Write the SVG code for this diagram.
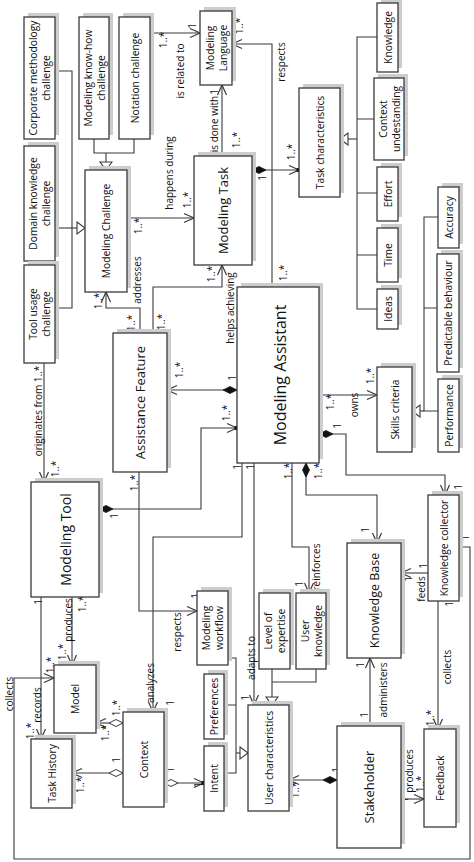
<svg xmlns="http://www.w3.org/2000/svg" width="474" height="862" viewBox="0 0 474 862">
<style>
.sh{fill:#cdcdcd;stroke:none}
.bx{fill:#fff;stroke:#3a3a3a;stroke-width:1.3}
.t{font-family:"Open Sans","Noto Sans",sans-serif;font-size:10.3px;fill:#111;text-anchor:middle;dominant-baseline:central}
.big{font-size:16px}
.mid{font-size:13px}
.lb{font-family:"Open Sans","Noto Sans",sans-serif;font-size:10px;fill:#111;text-anchor:middle;dominant-baseline:central}
.c{fill:none;stroke:#3a3a3a;stroke-width:1.1}
.a{marker-end:url(#arr)}
.ad{marker-end:url(#arrdot)}
.g{marker-end:url(#tri)}
.d{marker-start:url(#dia)}
.od{marker-start:url(#odia)}
</style>
<defs>
<marker id="arr" viewBox="0 0 10 10" refX="10" refY="5" markerWidth="10" markerHeight="10" markerUnits="userSpaceOnUse" orient="auto" overflow="visible"><path d="M0,0.5 L10,5 L0,9.5" fill="none" stroke="#3a3a3a" stroke-width="1.2"/></marker>
<marker id="arrdot" viewBox="0 0 10 10" refX="10" refY="5" markerWidth="10" markerHeight="10" markerUnits="userSpaceOnUse" orient="auto" overflow="visible"><path d="M0,0.5 L10,5 L0,9.5" fill="none" stroke="#3a3a3a" stroke-width="1.2"/><circle cx="9.5" cy="5" r="2.2" fill="#111"/></marker>
<marker id="dia" viewBox="0 0 14 8" refX="0" refY="4" markerWidth="14" markerHeight="8" markerUnits="userSpaceOnUse" orient="auto" overflow="visible"><path d="M0,4 L7,0.5 L14,4 L7,7.5 Z" fill="#111" stroke="#111" stroke-width="0.8"/></marker>
<marker id="odia" viewBox="0 0 14 8" refX="0" refY="4" markerWidth="14" markerHeight="8" markerUnits="userSpaceOnUse" orient="auto" overflow="visible"><path d="M0,4 L7,0.5 L14,4 L7,7.5 Z" fill="#fff" stroke="#3a3a3a" stroke-width="1"/></marker>
<marker id="tri" viewBox="0 0 8 12" refX="8" refY="6" markerWidth="8" markerHeight="12" markerUnits="userSpaceOnUse" orient="auto" overflow="visible"><path d="M0,0 L8,6 L0,12 Z" fill="#fff" stroke="#3a3a3a" stroke-width="1.1"/></marker>
</defs>

<g id="connectors">
<path class="c a" d="M150,33 H200"/>
<path class="c" d="M94,139 V153 H134 V139"/>
<path class="c g" d="M106,153 V170"/>
<path class="c" d="M55,71 H72 V308 H55"/>
<path class="c g" d="M55,228 H85"/>
<path class="c a" d="M127,218 H194"/>
<path class="c a" d="M222,156 V85"/>
<path class="c a" d="M272,287 V44 H232"/>
<path class="c d ad" d="M252,170 H299"/>
<path class="c" d="M377,37 H357 V309 H377 M377,119 H357 M377,193 H357 M377,255 H357"/>
<path class="c g" d="M357,139 H340"/>
<path class="c" d="M438,217 H424 V411 H438 M437,308 H424"/>
<path class="c g" d="M424,411 H412"/>
<path class="c a" d="M153,333 V287 H222 V265"/>
<path class="c a" d="M140,333 V308 H106 V292"/>
<path class="c d ad" d="M237,390 H167"/>
<path class="c d ad" d="M99,509 H201 V428 H237"/>
<path class="c a" d="M44,363 V482"/>
<path class="c a" d="M139,472 V611 H197"/>
<path class="c a" d="M242,463 V537 H153 V712"/>
<path class="c a" d="M254,463 V705"/>
<path class="c a" d="M292,463 V547 H309 V593"/>
<path class="c d ad" d="M306,463 V495 H377 V543"/>
<path class="c d ad" d="M319,434 H346 V475 H445 V495"/>
<path class="c a" d="M319,395 H377"/>
<path class="c ad" d="M428,573 H401"/>
<path class="c a" d="M438,601 V729"/>
<path class="c a" d="M459,547 H470 V859 H14 V678 H54"/>
<path class="c a" d="M370,726 V658"/>
<path class="c d ad" d="M337,780 H289"/>
<path class="c a" d="M401,799 H424"/>
<path class="c" d="M316,669 V682 H272"/>
<path class="c g" d="M272,669 V705"/>
<path class="c" d="M228,658 H236 V773 H224 M224,705 H236"/>
<path class="c g" d="M236,753 H248"/>
<path class="c od ad" d="M164,783 H204"/>
<path class="c od ad" d="M123,773 H72"/>
<path class="c od ad" d="M123,723 H96"/>
<path class="c a" d="M72,597 V665"/>
<path class="c a" d="M41,597 V739"/>
</g>

<g id="labels">
<text class="lb" transform="translate(163,40) rotate(-90)">1..*</text>
<text class="lb" transform="translate(192,26) rotate(-90)">1</text>
<text class="lb" transform="translate(180,71) rotate(-90)">is related to</text>
<text class="lb" transform="translate(138,226) rotate(-90)">1..*</text>
<text class="lb" transform="translate(169,173) rotate(-90)">happens during</text>
<text class="lb" transform="translate(187,200) rotate(-90)">1..*</text>
<text class="lb" transform="translate(214,124) rotate(-90)">is done with</text>
<text class="lb" transform="translate(214,92) rotate(-90)">1</text>
<text class="lb" transform="translate(236,140) rotate(-90)">1..*</text>
<text class="lb" transform="translate(239,26) rotate(-90)">1..*</text>
<text class="lb" transform="translate(281,62) rotate(-90)">respects</text>
<text class="lb" transform="translate(283,273) rotate(-90)">1..*</text>
<text class="lb" transform="translate(262,178) rotate(-90)">1</text>
<text class="lb" transform="translate(291,152) rotate(-90)">1..*</text>
<text class="lb" transform="translate(230,308) rotate(-90)">helps achieving</text>
<text class="lb" transform="translate(211,274) rotate(-90)">1..*</text>
<text class="lb" transform="translate(161,322) rotate(-90)">1..*</text>
<text class="lb" transform="translate(137,280) rotate(-90)">addresses</text>
<text class="lb" transform="translate(98,301) rotate(-90)">1..*</text>
<text class="lb" transform="translate(131,323) rotate(-90)">1..*</text>
<text class="lb" transform="translate(179,370) rotate(-90)">1..*</text>
<text class="lb" transform="translate(232,378) rotate(-90)">1</text>
<text class="lb" transform="translate(114,516) rotate(-90)">1</text>
<text class="lb" transform="translate(226,413) rotate(-90)">1..*</text>
<text class="lb" transform="translate(38,411) rotate(-90)">originates from 1..*</text>
<text class="lb" transform="translate(55,469) rotate(-90)">1..*</text>
<text class="lb" transform="translate(134,483) rotate(-90)">1..*</text>
<text class="lb" transform="translate(195,596) rotate(-90)">1</text>
<text class="lb" transform="translate(177,632) rotate(-90)">respects</text>
<text class="lb" transform="translate(150,683) rotate(-90)">analyzes</text>
<text class="lb" transform="translate(170,703) rotate(-90)">1</text>
<text class="lb" transform="translate(237,467) rotate(-90)">1</text>
<text class="lb" transform="translate(250,467) rotate(-90)">1</text>
<text class="lb" transform="translate(251,658) rotate(-90)">adapts to</text>
<text class="lb" transform="translate(245,698) rotate(-90)">1</text>
<text class="lb" transform="translate(316,567) rotate(-90)">reinforces</text>
<text class="lb" transform="translate(299,584) rotate(-90)">1</text>
<text class="lb" transform="translate(288,471) rotate(-90)">1..*</text>
<text class="lb" transform="translate(318,471) rotate(-90)">1..*</text>
<text class="lb" transform="translate(365,530) rotate(-90)">1</text>
<text class="lb" transform="translate(337,426) rotate(-90)">1</text>
<text class="lb" transform="translate(458,487) rotate(-90)">1</text>
<text class="lb" transform="translate(330,402) rotate(-90)">1..*</text>
<text class="lb" transform="translate(354,405) rotate(-90)">owns</text>
<text class="lb" transform="translate(370,376) rotate(-90)">1..*</text>
<text class="lb" transform="translate(423,566) rotate(-90)">1</text>
<text class="lb" transform="translate(421,589) rotate(-90)">feeds</text>
<text class="lb" transform="translate(408,579) rotate(-90)">1</text>
<text class="lb" transform="translate(449,604) rotate(-90)">1</text>
<text class="lb" transform="translate(447,667) rotate(-90)">collects</text>
<text class="lb" transform="translate(430,718) rotate(-90)">1..*</text>
<text class="lb" transform="translate(465,538) rotate(-90)">1</text>
<text class="lb" transform="translate(9,694) rotate(-90)">collects</text>
<text class="lb" transform="translate(50,665) rotate(-90)">1..*</text>
<text class="lb" transform="translate(364,715) rotate(-90)">1</text>
<text class="lb" transform="translate(360,665) rotate(-90)">1</text>
<text class="lb" transform="translate(383,690) rotate(-90)">administers</text>
<text class="lb" transform="translate(336,770) rotate(-90)">1</text>
<text class="lb" transform="translate(295,790) rotate(-90)">1..*</text>
<text class="lb" transform="translate(404,800) rotate(-90)">1</text>
<text class="lb" transform="translate(409,771) rotate(-90)">produces</text>
<text class="lb" transform="translate(420,784) rotate(-90)">1..*</text>
<text class="lb" transform="translate(170,770) rotate(-90)">1</text>
<text class="lb" transform="translate(198,785) rotate(-90)">1</text>
<text class="lb" transform="translate(116,760) rotate(-90)">1</text>
<text class="lb" transform="translate(80,785) rotate(-90)">1..*</text>
<text class="lb" transform="translate(116,708) rotate(-90)">1..*</text>
<text class="lb" transform="translate(105,733) rotate(-90)">1..*</text>
<text class="lb" transform="translate(68,620) rotate(-90)">produces</text>
<text class="lb" transform="translate(82,604) rotate(-90)">1..*</text>
<text class="lb" transform="translate(62,652) rotate(-90)">1..*</text>
<text class="lb" transform="translate(38,602) rotate(-90)">1</text>
<text class="lb" transform="translate(37,705) rotate(-90)">records</text>
<text class="lb" transform="translate(30,731) rotate(-90)">1..*</text>
</g>

<g id="corp"><rect class="sh" x="28" y="13" width="31" height="122"/><rect class="bx" x="24" y="17" width="31" height="122"/><text class="t" transform="translate(39.5,78) rotate(-90)"><tspan x="0" dy="-0.6em">Corporate methodology</tspan><tspan x="0" dy="1.25em">challenge</tspan></text></g>
<g id="knowhow"><rect class="sh" x="83" y="13" width="30" height="122"/><rect class="bx" x="79" y="17" width="30" height="122"/><text class="t" transform="translate(94,78) rotate(-90)"><tspan x="0" dy="-0.6em">Modeling know-how</tspan><tspan x="0" dy="1.25em">challenge</tspan></text></g>
<g id="notation"><rect class="sh" x="123" y="13" width="31" height="122"/><rect class="bx" x="119" y="17" width="31" height="122"/><text class="t" transform="translate(134.5,78) rotate(-90)">Notation challenge</text></g>
<g id="language"><rect class="sh" x="204" y="7" width="32" height="74"/><rect class="bx" x="200" y="11" width="32" height="74"/><text class="t" transform="translate(216,48) rotate(-90)"><tspan x="0" dy="-0.6em">Modeling</tspan><tspan x="0" dy="1.25em">Language</tspan></text></g>
<g id="domain"><rect class="sh" x="28" y="142" width="31" height="115"/><rect class="bx" x="24" y="146" width="31" height="115"/><text class="t" transform="translate(39.5,203.5) rotate(-90)"><tspan x="0" dy="-0.6em">Domain knowledge</tspan><tspan x="0" dy="1.25em">challenge</tspan></text></g>
<g id="mchallenge"><rect class="sh" x="89" y="166" width="42" height="122"/><rect class="bx" x="85" y="170" width="42" height="122"/><text class="t" transform="translate(106,231) rotate(-90)">Modeling Challenge</text></g>
<g id="mtask"><rect class="sh" x="198" y="152" width="58" height="109"/><rect class="bx" x="194" y="156" width="58" height="109"/><text class="t mid" transform="translate(223,210.5) rotate(-90)">Modeling Task</text></g>
<g id="toolusage"><rect class="sh" x="28" y="261" width="31" height="98"/><rect class="bx" x="24" y="265" width="31" height="98"/><text class="t" transform="translate(39.5,314) rotate(-90)"><tspan x="0" dy="-0.6em">Tool usage</tspan><tspan x="0" dy="1.25em">challenge</tspan></text></g>
<g id="knowledge"><rect class="sh" x="381" y="-1" width="21" height="69"/><rect class="bx" x="377" y="3" width="21" height="69"/><text class="t" transform="translate(387.5,37.5) rotate(-90)">Knowledge</text></g>
<g id="ctxund"><rect class="sh" x="378" y="74" width="30" height="82"/><rect class="bx" x="374" y="78" width="30" height="82"/><text class="t" transform="translate(389,119) rotate(-90)"><tspan x="0" dy="-0.6em">Context</tspan><tspan x="0" dy="1.25em">undestanding</tspan></text></g>
<g id="effort"><rect class="sh" x="381" y="163" width="21" height="54"/><rect class="bx" x="377" y="167" width="21" height="54"/><text class="t" transform="translate(387.5,194) rotate(-90)">Effort</text></g>
<g id="time"><rect class="sh" x="381" y="224" width="21" height="54"/><rect class="bx" x="377" y="228" width="21" height="54"/><text class="t" transform="translate(387.5,255) rotate(-90)">Time</text></g>
<g id="ideas"><rect class="sh" x="381" y="285" width="21" height="40"/><rect class="bx" x="377" y="289" width="21" height="40"/><text class="t" transform="translate(387.5,309) rotate(-90)">Ideas</text></g>
<g id="taskchar"><rect class="sh" x="303" y="84" width="41" height="109"/><rect class="bx" x="299" y="88" width="41" height="109"/><text class="t" transform="translate(319.5,142.5) rotate(-90)">Task characteristics</text></g>
<g id="accuracy"><rect class="sh" x="442" y="183" width="21" height="61"/><rect class="bx" x="438" y="187" width="21" height="61"/><text class="t" transform="translate(448.5,217.5) rotate(-90)">Accuracy</text></g>
<g id="predict"><rect class="sh" x="441" y="250" width="22" height="118"/><rect class="bx" x="437" y="254" width="22" height="118"/><text class="t" transform="translate(448,313) rotate(-90)">Predictable behaviour</text></g>
<g id="perf"><rect class="sh" x="442" y="375" width="21" height="73"/><rect class="bx" x="438" y="379" width="21" height="73"/><text class="t" transform="translate(448.5,415.5) rotate(-90)">Performance</text></g>
<g id="skills"><rect class="sh" x="381" y="363" width="35" height="85"/><rect class="bx" x="377" y="367" width="35" height="85"/><text class="t" transform="translate(394.5,409.5) rotate(-90)">Skills criteria</text></g>
<g id="massist"><rect class="sh" x="241" y="283" width="82" height="176"/><rect class="bx" x="237" y="287" width="82" height="176"/><text class="t big" transform="translate(280,375) rotate(-90)">Modeling Assistant</text></g>
<g id="kbase"><rect class="sh" x="351" y="539" width="54" height="115"/><rect class="bx" x="347" y="543" width="54" height="115"/><text class="t" style="font-size:12.5px" transform="translate(374,600.5) rotate(-90)">Knowledge Base</text></g>
<g id="kcollector"><rect class="sh" x="432" y="491" width="31" height="106"/><rect class="bx" x="428" y="495" width="31" height="106"/><text class="t" transform="translate(443.5,548) rotate(-90)">Knowledge collector</text></g>
<g id="stakeholder"><rect class="sh" x="341" y="722" width="64" height="122"/><rect class="bx" x="337" y="726" width="64" height="122"/><text class="t mid" transform="translate(369,787) rotate(-90)">Stakeholder</text></g>
<g id="feedback"><rect class="sh" x="428" y="725" width="32" height="98"/><rect class="bx" x="424" y="729" width="32" height="98"/><text class="t" transform="translate(440,778) rotate(-90)">Feedback</text></g>
<g id="userchar"><rect class="sh" x="252" y="701" width="41" height="106"/><rect class="bx" x="248" y="705" width="41" height="106"/><text class="t" transform="translate(268.5,758) rotate(-90)">User characteristics</text></g>
<g id="level"><rect class="sh" x="263" y="589" width="31" height="76"/><rect class="bx" x="259" y="593" width="31" height="76"/><text class="t" transform="translate(274.5,631) rotate(-90)"><tspan x="0" dy="-0.6em">Level of</tspan><tspan x="0" dy="1.25em">expertise</tspan></text></g>
<g id="userknow"><rect class="sh" x="300" y="589" width="30" height="76"/><rect class="bx" x="296" y="593" width="30" height="76"/><text class="t" transform="translate(311,631) rotate(-90)"><tspan x="0" dy="-0.6em">User</tspan><tspan x="0" dy="1.25em">knowledge</tspan></text></g>
<g id="mtool"><rect class="sh" x="35" y="478" width="68" height="115"/><rect class="bx" x="31" y="482" width="68" height="115"/><text class="t mid" style="font-size:14px" transform="translate(65,539.5) rotate(-90)">Modeling Tool</text></g>
<g id="assistfeat"><rect class="sh" x="117" y="329" width="54" height="139"/><rect class="bx" x="113" y="333" width="54" height="139"/><text class="t mid" transform="translate(140,402.5) rotate(-90)">Assistance Feature</text></g>
<g id="model"><rect class="sh" x="58" y="661" width="42" height="68"/><rect class="bx" x="54" y="665" width="42" height="68"/><text class="t" transform="translate(75,699) rotate(-90)">Model</text></g>
<g id="taskhist"><rect class="sh" x="35" y="735" width="41" height="69"/><rect class="bx" x="31" y="739" width="41" height="69"/><text class="t" transform="translate(51.5,773.5) rotate(-90)">Task History</text></g>
<g id="context"><rect class="sh" x="127" y="708" width="41" height="95"/><rect class="bx" x="123" y="712" width="41" height="95"/><text class="t" transform="translate(143.5,759.5) rotate(-90)">Context</text></g>
<g id="workflow"><rect class="sh" x="201" y="587" width="31" height="74"/><rect class="bx" x="197" y="591" width="31" height="74"/><text class="t" transform="translate(212.5,628) rotate(-90)"><tspan x="0" dy="-0.6em">Modeling</tspan><tspan x="0" dy="1.25em">workflow</tspan></text></g>
<g id="prefs"><rect class="sh" x="208" y="670" width="20" height="65"/><rect class="bx" x="204" y="674" width="20" height="65"/><text class="t" transform="translate(214,706.5) rotate(-90)">Preferences</text></g>
<g id="intent"><rect class="sh" x="208" y="742" width="20" height="65"/><rect class="bx" x="204" y="746" width="20" height="65"/><text class="t" transform="translate(214,778.5) rotate(-90)">Intent</text></g>
</svg>
